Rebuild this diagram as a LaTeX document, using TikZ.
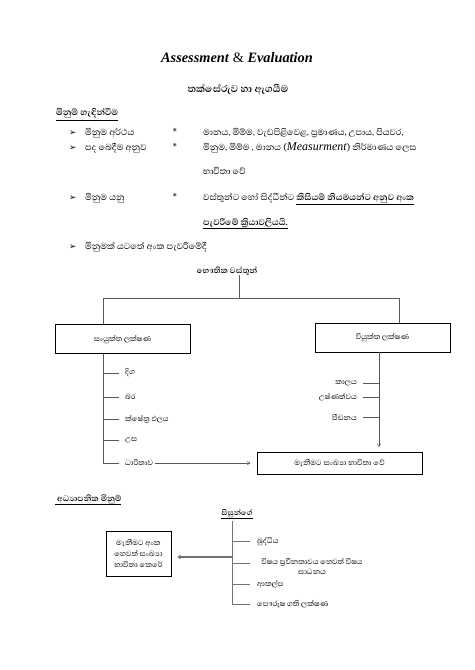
\documentclass[tikz,border=0pt]{standalone}
\usepackage{fontspec}
\setmainfont{Abhaya Libre}[Script=Sinhala]
\newfontfamily\latinf{Liberation Serif}
\newfontfamily\dejavu{DejaVu Sans}
\usetikzlibrary{arrows.meta}
\begin{document}
\begin{tikzpicture}[x=1.256pt,y=-1.256pt,
  txt/.style={inner sep=0pt, anchor=base west, font=\fontsize{14}{16}\selectfont},
  dtx/.style={inner sep=0pt, font=\fontsize{12}{14}\selectfont},
  bul/.style={inner sep=0pt, anchor=base west, font=\dejavu\fontsize{11}{12}\selectfont},
  box/.style={draw=black, line width=0.9pt, inner sep=0pt, font=\fontsize{12}{14}\selectfont},
  ln/.style={draw=black!65, line width=0.6pt},
  ln2/.style={draw=black!55, line width=0.9pt},
  tip/.style={-{To[length=4pt,width=5pt]}},
]
\useasboundingbox (0,0) rectangle (474,670);
\fill[white] (0,0) rectangle (474,670);

% title
\node[inner sep=0pt] (title) at (237,58) {\latinf\fontsize{18}{20}\selectfont\textbf{\textit{Assessment}} \& \textbf{\textit{Evaluation}}};
\node[inner sep=0pt, anchor=base, font=\fontsize{16}{18}\selectfont\bfseries] (sub) at (238,93) {තක්සේරුව හා ඇගයීම};

\node[txt, font=\fontsize{14}{16}\selectfont\bfseries] (h1) at (56,116) {\underline{මිනුම් හැඳින්වීම}};

% bullet rows
\node[bul] (b1) at (69,136) {➢};
\node[txt] (t1) at (85,136) {මිනුම අර්ථය};
\node[txt] (s1) at (173,136) {*};
\node[txt] (d1) at (203,136) {මානය, මිම්ම, වැඩපිළිවෙළ, ප්^^^^200dරමාණය, උපාය, පියවර,};

\node[bul] (b2) at (69,151) {➢};
\node[txt] (t2) at (85,151) {පද බෙදීම අනුව};
\node[txt] (s2) at (173,151) {*};
\node[txt] (d2) at (203,151) {මිනුම, මිම්ම , මානය ({\latinf\itshape\fontsize{15}{16}\selectfont Measurment}) නිර්මාණය ලෙස};
\node[txt] (d2b) at (203,174) {භාවිතා වේ};

\node[bul] (b3) at (69,201) {➢};
\node[txt] (t3) at (85,201) {මිනුම යනු};
\node[txt] (s3) at (173,201) {*};
\node[txt] (d3) at (203,201) {වස්තුන්ට හෝ සිද්ධීන්ට \textbf{\underline{කිසියම් නියමයන්ට අනුව අංක}}};
\node[txt] (d3b) at (203,225) {\textbf{\underline{පැවරීමේ ක්^^^^200dරියාවලියයි.}}};

\node[bul] (b4) at (69,249) {➢};
\node[txt] (t4) at (85,249) {මිනුමක් යටතේ අංක පැවරීමේදී};

% physical objects tree
\node[inner sep=0pt, anchor=base, font=\fontsize{13}{15}\selectfont\bfseries] (phys) at (227,273) {භෞතික වස්තූන්};
\coordinate (tj) at (239,298);
\coordinate (lj) at (103,298);
\coordinate (rj) at (399,298);

\node[box, minimum width=135*1.256pt, minimum height=29*1.256pt] (sam) at (122.5,339) {සංයුක්ත ලක්ෂණ};
\node[box, minimum width=135*1.256pt, minimum height=29*1.256pt] (viy) at (382.5,337.5) {වියුක්ත ලක්ෂණ};
\node[box, minimum width=165*1.256pt, minimum height=22*1.256pt] (bot) at (339.5,463) {මැනීමට සංඛ්^^^^200dයා භාවිතා වේ};

\draw[ln] (tj |- phys.south) -- (tj);
\draw[ln] (lj) -- (rj);
\draw[ln] (lj) -- (lj |- sam.north);
\draw[ln] (rj) -- (rj |- viy.north);

% left items
\node[dtx, anchor=west] (dig) at (125,373) {දිග};
\node[dtx, anchor=west] (bar) at (125,397) {බර};
\node[dtx, anchor=west] (ksh) at (125,419) {ක්ෂේත්^^^^200dර ඵලය};
\node[dtx, anchor=west] (usa) at (125,440) {උස};
\node[dtx, anchor=west] (dha) at (125,463) {ධාරිතාව};
\coordinate (ls) at (103,0);
\draw[ln] (ls |- sam.south) -- (ls |- dha.west) -- ([xshift=-7pt]dha.west);
\foreach \n in {dig,bar,ksh,usa} \draw[ln] (ls |- \n.west) -- ([xshift=-7pt]\n.west);
\draw[ln, tip, shorten >=8pt] ([xshift=2pt]dha.east) -- (bot.west);

% right items
\node[dtx, anchor=east] (kal) at (357,383) {කාලය};
\node[dtx, anchor=east] (ush) at (357,397) {උෂ්ණත්වය};
\node[dtx, anchor=east] (pid) at (357,417) {පීඩනය};
\coordinate (rs) at (379,0);
\draw[ln, tip] (rs |- viy.south) -- ([yshift=6pt]rs |- bot.north);
\foreach \n in {kal,ush,pid} \draw[ln] ([xshift=7pt]\n.east) -- (rs |- \n.east);

% educational measurement
\node[txt, font=\fontsize{13}{15}\selectfont\bfseries] (h2) at (55,501) {\underline{\ අධ්^^^^200dයාපනික මිනුම්}};
\node[txt, anchor=base, font=\fontsize{12}{14}\selectfont\bfseries] (sis) at (237,515) {\underline{සිසුන්ගේ}};
\coordinate (bs) at (232,521);

\node[dtx, anchor=west] (bud) at (257,541) {බුද්ධිය};
\node[dtx, align=center, font=\fontsize{12}{12.5}\selectfont] (vis) at (312,566) {විෂය ප්^^^^200dරවීනතාවය හෙවත් විෂය\\සාධනය};
\node[dtx, anchor=west] (aka) at (257,584) {ආකල්ප};
\node[dtx, anchor=west] (pau) at (257,604) {පෞරුෂ ගති ලක්ෂණ};

\draw[ln2] (bs) -- (bs |- pau.west) -- ([xshift=-9pt]pau.west);
\draw[ln2, line width=1.2pt] (bs |- bud.west) -- ([xshift=-9pt]bud.west);
\draw[ln2] (bs |- 0,563) -- ([xshift=-9pt]bud.west |- 0,563);
\draw[ln2] (bs |- aka.west) -- ([xshift=-9pt]aka.west);

\node[box, line width=0.7pt, minimum width=65*1.256pt, minimum height=45*1.256pt, align=center, font=\fontsize{12}{13.8}\selectfont] (lbox) at (138.5,553.5) {මැනීමට අංක\\හෙවත් සංඛ්^^^^200dයා\\භාවිතා කෙරේ};
\coordinate (aj) at (232,557);
\draw[ln2, line width=1.3pt, tip, shorten >=8pt] (aj) -- (aj -| lbox.east);
\end{tikzpicture}
\end{document}
